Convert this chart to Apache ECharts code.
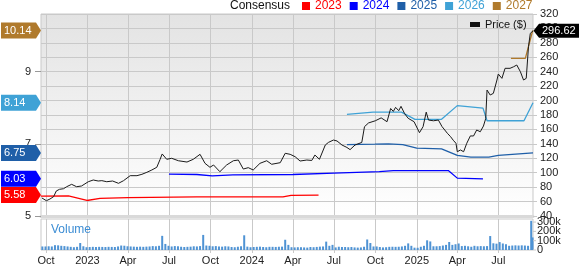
<!DOCTYPE html>
<html><head><meta charset="utf-8">
<script src="https://cdn.jsdelivr.net/npm/echarts@6/dist/echarts.min.js"></script>
<style>html,body{margin:0;padding:0;background:#fff}#c{width:579px;height:266px}</style>
</head><body><div id="c"></div>
<script>
// ---- data ----
const tickDates = ['2022-10-01','2023-01-01','2023-04-01','2023-07-01','2023-10-01','2024-01-01','2024-04-01','2024-07-01','2024-10-01','2025-01-01','2025-04-01','2025-07-01'];
const tickLabels = ['Oct','2023','Apr','Jul','Oct','2024','Apr','Jul','Oct','2025','Apr','Jul'];
const xStart = '2022-09-20';
const xEnd = '2025-09-16';
const priceTicks = [40,60,80,100,120,140,160,180,200,220,240,260,280,300,320];
const epsTicks = [5,7,9];
const volTicks = [0,100,200,300]; // thousands
const volTickLabels = ['0','100k','200k','300k'];

const price = [['2022-09-22',65],['2022-10-02',61.2],['2022-10-10',63.6],['2022-10-18',66.8],['2022-10-24',74.7],['2022-10-31',77],['2022-11-09',77.8],['2022-11-16',80.6],['2022-11-27',83.9],['2022-12-08',80.6],['2022-12-19',81.6],['2023-01-03',87.5],['2023-01-14',89.9],['2023-01-25',88.5],['2023-02-02',89],['2023-02-13',87.5],['2023-02-26',88.5],['2023-03-11',85.3],['2023-03-22',88.9],['2023-04-06',95.9],['2023-04-21',95.9],['2023-05-02',97.8],['2023-05-13',100.6],['2023-05-24',103.8],['2023-06-04',107.5],['2023-06-11',118],['2023-06-16',126],['2023-06-26',118.6],['2023-07-07',120],['2023-07-22',116.6],['2023-07-26',117.6],['2023-08-10',114.8],['2023-08-24',118.6],['2023-09-08',125.5],['2023-09-19',113],['2023-09-30',107.5],['2023-10-08',110.7],['2023-10-22',101.4],['2023-11-06',110.7],['2023-11-21',116.6],['2023-12-02',117.6],['2023-12-13',105.1],['2023-12-24',107],['2024-01-04',103.8],['2024-01-19',113],['2024-02-03',116.6],['2024-02-14',111.7],['2024-03-04',113.9],['2024-03-15',126.9],['2024-03-26',125.5],['2024-04-06',122.2],['2024-04-17',116.2],['2024-05-02',117.6],['2024-05-13',117],['2024-05-20',124.5],['2024-05-30',118.6],['2024-06-12',138.4],['2024-06-19',142],['2024-06-30',145.3],['2024-07-08',144],['2024-07-19',138.4],['2024-07-30',135],['2024-08-06',132],['2024-08-17',138.4],['2024-09-01',142],['2024-09-07',163.8],['2024-09-16',169],['2024-10-01',172],['2024-10-14',176],['2024-10-27',170.7],['2024-11-04',189],['2024-11-10',185],['2024-11-15',190.6],['2024-11-22',186],['2024-11-27',192],['2024-12-05',182],['2024-12-13',175.4],['2024-12-26',170.7],['2025-01-07',155.5],['2025-01-15',163.8],['2025-01-22',184],['2025-01-27',173],['2025-02-07',172],['2025-02-18',173],['2025-02-26',164],['2025-03-10',154.6],['2025-03-17',150],['2025-03-23',145],['2025-03-29',140.8],['2025-04-01',129.1],['2025-04-08',131.5],['2025-04-15',129.1],['2025-04-22',140.8],['2025-04-30',151],['2025-05-07',150.9],['2025-05-14',159.2],['2025-05-22',156.8],['2025-05-29',164.7],['2025-06-03',175],['2025-06-06',214.6],['2025-06-13',207.7],['2025-06-20',210],['2025-06-28',228.5],['2025-07-01',236.8],['2025-07-09',230.8],['2025-07-16',244.7],['2025-07-27',244.7],['2025-08-04',246.9],['2025-08-11',249.3],['2025-08-19',240],['2025-08-26',228.5],['2025-09-01',230.8],['2025-09-06',274.7],['2025-09-10',293.2],['2025-09-16',296.62]];

const eps2023 = [['2022-09-20',5.55],['2022-11-20',5.56],['2022-12-31',5.43],['2023-01-29',5.49],['2023-04-01',5.51],['2023-09-01',5.53],['2024-03-10',5.53],['2024-03-28',5.57],['2024-05-28',5.58]];
const eps2024 = [['2023-07-01',6.16],['2023-09-01',6.15],['2023-10-05',6.11],['2023-11-20',6.14],['2024-04-01',6.15],['2024-07-01',6.19],['2024-10-10',6.23],['2024-11-10',6.26],['2025-03-12',6.26],['2025-04-01',6.05],['2025-05-28',6.03]];
const eps2025 = [['2024-07-30',6.98],['2024-09-30',6.99],['2024-10-30',7.0],['2024-12-01',6.98],['2025-01-01',6.88],['2025-02-25',6.86],['2025-04-01',6.68],['2025-05-01',6.63],['2025-06-10',6.63],['2025-07-01',6.68],['2025-09-16',6.75]];
const eps2026 = [['2024-07-30',7.82],['2024-09-26',7.88],['2024-11-28',7.88],['2024-12-28',7.68],['2025-02-25',7.68],['2025-04-01',8.06],['2025-05-28',7.99],['2025-06-06',7.64],['2025-08-27',7.64],['2025-09-16',8.14]];
const eps2027 = [['2025-07-29',9.37],['2025-08-30',9.37],['2025-09-14',10.08],['2025-09-16',10.14]];

const volStart = '2022-09-23'; // weekly bars, week ending Friday
const volumeK = [38,38,40,38,52,50,45,42,38,34,30,34,75,
40,30,32,34,32,34,33,32,34,33,32,38,48,
46,40,38,36,34,36,34,36,38,42,40,45,152,
65,45,38,42,40,35,32,34,36,40,38,42,162,
48,45,40,42,38,36,40,38,32,30,35,40,158,
36,30,32,34,36,32,30,34,34,33,35,36,110,
55,30,28,30,30,28,26,32,30,33,36,38,90,
45,55,28,35,32,32,30,32,28,26,28,35,113,
75,38,38,32,28,30,34,35,34,35,38,45,71,
45,25,24,35,45,104,92,40,40,42,48,55,86,
55,62,70,42,45,40,35,45,40,42,40,42,150,
72,68,85,70,62,45,48,50,48,50,48,45,314];
const volPartialDate = '2025-09-15';
const volPartialK = 135;

const seriesNames = ['2023','2024','2025','2026','2027'];
const seriesColors = ['#ff0000','#0000ff','#1f5fa8','#3fa2d6','#b07a2c'];
// ---- build ----
function ts(s){const p=s.split('-').map(Number);return new Date(p[0],p[1]-1,p[2]).getTime();}
const tickTs = tickDates.map(ts);
const volData = volumeK.map((v,i)=>{const p=volStart.split('-').map(Number);return [new Date(p[0],p[1]-1,p[2]+7*i).getTime(), v];});
volData.push([ts(volPartialDate), volPartialK]);
const FONT = '"Liberation Sans", Arial, sans-serif';
const epsSets = [eps2023,eps2024,eps2025,eps2026,eps2027];

const chart = echarts.init(document.getElementById('c'), null, {renderer:'canvas'});
const gridColor = '#c9c9c9';
const xLabelFmt = function(v){ for (let i=0;i<tickTs.length;i++){ if (Math.abs(tickTs[i]-v) < 2*86400000) return tickLabels[i]; } return ''; };

const option = {
  animation: false,
  textStyle: {fontFamily: FONT},
  title: {text:'Consensus', left:230, top:0, padding:0, textStyle:{fontSize:12, fontWeight:'normal', color:'#111', fontFamily: FONT}},
  legend: [
    {data: seriesNames.map((n,i)=>({name:n, textStyle:{color:seriesColors[i]}})), left:302, top:0, padding:0, itemWidth:8, itemHeight:8, itemGap:8, icon:'rect', selectedMode:false, textStyle:{fontSize:12, fontFamily:FONT}},
    {data:['Price ($)'], left:470, top:19, padding:0, itemWidth:10, itemHeight:5, icon:'rect', selectedMode:false, textStyle:{fontSize:11, color:'#111', fontFamily:FONT}}
  ],
  grid: [
    {left:41, right:46, top:14, height:202, show:true, borderColor:gridColor, borderWidth:1,
      backgroundColor: new echarts.graphic.LinearGradient(0,0,0,1,[{offset:0,color:'#e3e3e3'},{offset:1,color:'#ffffff'}])},
    {left:41, right:46, top:219, height:34, show:true, borderColor:gridColor, borderWidth:1, backgroundColor:'#ffffff'}
  ],
  xAxis: [
    {type:'value', gridIndex:0, min:ts(xStart), max:ts(xEnd),
      axisLine:{show:true, onZero:false, lineStyle:{color:'#d9d9d9', width:3}},
      axisTick:{show:false, customValues:tickTs}, axisLabel:{show:false, customValues:tickTs},
      splitLine:{show:true, lineStyle:{color:gridColor, width:1}}},
    {type:'value', gridIndex:1, min:ts(xStart), max:ts(xEnd),
      axisLine:{show:false, onZero:false},
      axisTick:{show:true, length:3, customValues:tickTs, lineStyle:{color:gridColor}},
      axisLabel:{customValues:tickTs, formatter:xLabelFmt, margin:5, fontSize:11, color:'#222', fontFamily:FONT, hideOverlap:false},
      splitLine:{show:true, lineStyle:{color:gridColor, width:1}}}
  ],
  yAxis: [
    {type:'value', gridIndex:0, position:'left', min:5, max:10.6,
      axisLine:{show:false}, axisTick:{show:true, length:6, customValues:epsTicks, lineStyle:{color:'#999'}},
      axisLabel:{customValues:epsTicks, margin:10, fontSize:11, color:'#222', fontFamily:FONT, hideOverlap:false}, splitLine:{show:false}},
    {type:'value', gridIndex:0, position:'right', min:priceTicks[0], max:priceTicks[priceTicks.length-1], interval:20,
      axisLine:{show:false}, axisTick:{show:true, length:4, lineStyle:{color:gridColor}},
      axisLabel:{margin:7, fontSize:11, lineHeight:9, color:'#222', fontFamily:FONT, hideOverlap:false, showMinLabel:true, showMaxLabel:true}, splitLine:{show:true, lineStyle:{color:gridColor}}},
    {type:'value', gridIndex:1, position:'right', min:0, max:333, interval:100,
      axisLine:{show:false}, axisTick:{show:false}, axisLabel:{show:false}, splitLine:{show:false}}
  ],
  series: [
    {name:'Volume', type:'bar', xAxisIndex:1, yAxisIndex:2, data:volData, barWidth:2, itemStyle:{color:'#4f93d4'}, silent:true}
  ].concat(epsSets.map((d,i)=>({
    name:seriesNames[i], type:'line', xAxisIndex:0, yAxisIndex:0, data:d.map(p=>[ts(p[0]),p[1]]),
    showSymbol:false, symbol:'none', lineStyle:{color:seriesColors[i], width:1.3}, itemStyle:{color:seriesColors[i]}, silent:true, z:3
  }))).concat([
    {name:'Price ($)', type:'line', xAxisIndex:0, yAxisIndex:1, data:price.map(p=>[ts(p[0]),p[1]]),
      showSymbol:false, symbol:'none', lineStyle:{color:'#1a1a1a', width:1}, itemStyle:{color:'#111'}, silent:true, z:4}
  ])
};
chart.setOption(option);

// extra text drawn at positions taken from the library's axes
const gfx = [{type:'text', left:51, top:224, style:{text:'Volume', fill:'#3c8dd4', font:'12px '+FONT}}];
const leftX = chart.convertToPixel({xAxisIndex:0}, ts(xStart));
const rightX = chart.convertToPixel({xAxisIndex:1}, ts(xEnd));
volTicks.forEach((v,i)=>{
  const y = chart.convertToPixel({yAxisIndex:2}, v);
  gfx.push({type:'line', z:50, shape:{x1:rightX, y1:y, x2:rightX+3, y2:y}, style:{stroke:gridColor}});
  gfx.push({type:'text', z:50, x:rightX+4, y:y, style:{text:volTickLabels[i], fill:'#222', font:'11px '+FONT, verticalAlign:'middle'}});
});
epsSets.map((d,i)=>({v:d[d.length-1][1], c:seriesColors[i]})).forEach(b=>{
  const y = chart.convertToPixel({yAxisIndex:0}, b.v);
  gfx.push({type:'polygon', z:100, shape:{points:[[1,y-8],[leftX-5,y-8],[leftX,y],[leftX-5,y+8],[1,y+8]]}, style:{fill:b.c}});
  gfx.push({type:'text', z:101, x:4, y:y, style:{text:b.v.toFixed(2), fill:'#fff', font:'11px '+FONT, verticalAlign:'middle'}});
});
const lastP = price[price.length-1];
const px = chart.convertToPixel({xAxisIndex:0}, ts(lastP[0]));
const py = chart.convertToPixel({yAxisIndex:1}, lastP[1]);
gfx.push({type:'polygon', z:100, shape:{points:[[px+0.5,py],[px+6,py-7],[579,py-7],[579,py+7],[px+6,py+7]]}, style:{fill:'#000'}});
gfx.push({type:'text', z:101, x:px+9, y:py, style:{text:String(lastP[1]), fill:'#fff', font:'11px '+FONT, verticalAlign:'middle'}});
chart.setOption({graphic: gfx});
</script>
</body></html>
